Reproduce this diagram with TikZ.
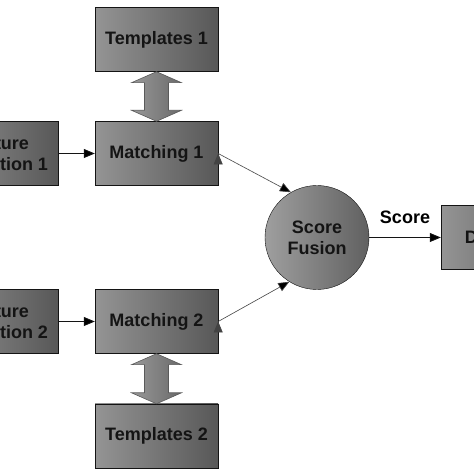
\documentclass[tikz,border=0pt]{standalone}
\usepackage{fontspec}
\setmainfont{Liberation Sans}
\usetikzlibrary{arrows.meta,calc}
\definecolor{boxlight}{RGB}{148,148,148}
\definecolor{boxdark}{RGB}{88,88,88}
\definecolor{inkgray}{RGB}{20,20,20}
\begin{document}
\begin{tikzpicture}[x=1pt,y=1pt,
    font=\fontsize{18}{21}\selectfont\bfseries,
    block/.style={draw=inkgray,shape=rectangle,left color=boxlight,right color=boxdark,
      minimum width=123pt,minimum height=64pt,align=center,text=inkgray},
    fusionnode/.style={draw=inkgray,shape=circle,left color=boxlight!90!white,right color=boxdark!95!white,
      minimum size=104pt,inner sep=0pt,align=center,text=inkgray},
    dblarrow/.style={draw=inkgray!70,line width=0.6pt,left color=boxlight!95!white,right color=boxdark!90!white},
    >={Triangle[length=11pt,width=9pt]}]
  \path[use as bounding box,clip] (0,0) rectangle (474,474);
  % left column, cut off by the frame
  \node[block] (feat1) at (-3.5,320.5) {Feature\\Extraction 1};
  \node[block] (feat2) at (-3.5,152.5) {Feature\\Extraction 2};
  % matching and templates
  \node[block] (tpl1)   at (156.5,434.5) {Templates 1};
  \node[block] (match1) at (156.5,320.5) {Matching 1};
  \node[block] (match2) at (156.5,152.5) {Matching 2};
  \node[block] (tpl2)   at (156.5,38)    {Templates 2};
  % fusion and decision
  \node[fusionnode] (fusion) at (317,236.5) {Score\\Fusion};
  \node[block] (decision) at (502.5,236.5) {Decision};
  % template lookups
  \draw[dblarrow] (tpl1.south) -- ++(25,-11) -- ++(-13,0) -- ($(match1.north)+(12,11)$)
    -- ++(13,0) -- (match1.north) -- ++(-25,11) -- ++(13,0)
    -- ($(tpl1.south)+(-12,-11)$) -- ++(-13,0) -- cycle;
  \draw[dblarrow] (match2.south) -- ++(25,-11) -- ++(-13,0) -- ($(tpl2.north)+(12,11)$)
    -- ++(13,0) -- (tpl2.north) -- ++(-25,11) -- ++(13,0)
    -- ($(match2.south)+(-12,-11)$) -- ++(-13,0) -- cycle;
  % connectors
  \path[->,draw=inkgray,line width=0.8pt] (feat1) edge (match1);
  \path[->,draw=inkgray,line width=0.8pt] (feat2) edge (match2);
  \path[->,draw=inkgray!80,line width=0.6pt] (match1.east) edge (fusion.120);
  \path[->,draw=inkgray!80,line width=0.6pt] (match2.east) edge (fusion.238);
  \path[->,draw=inkgray,line width=0.8pt] (fusion) edge node[above=10pt] {Score} (decision);
\end{tikzpicture}
\end{document}
